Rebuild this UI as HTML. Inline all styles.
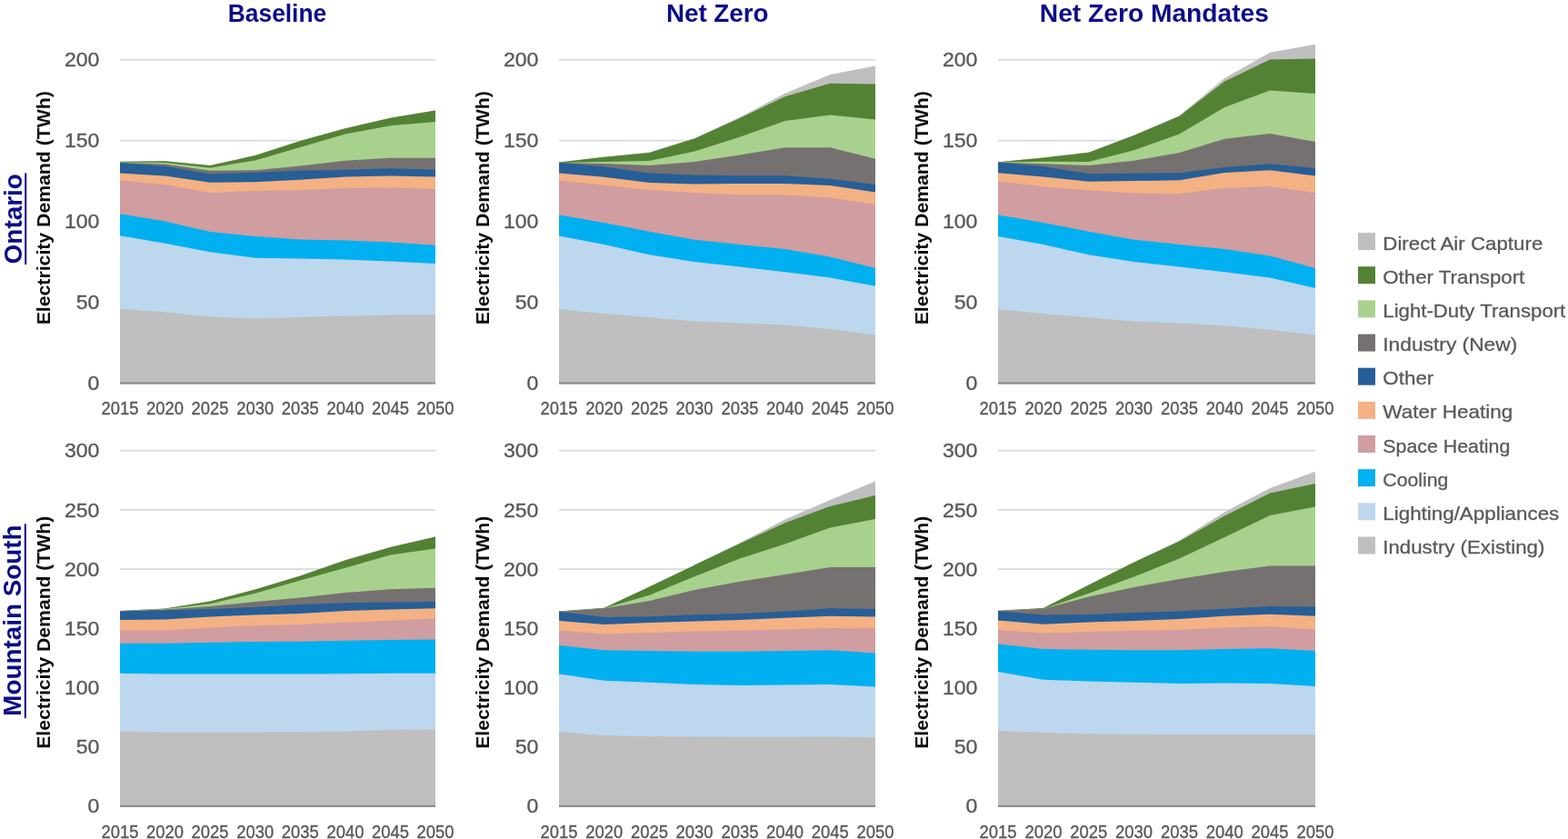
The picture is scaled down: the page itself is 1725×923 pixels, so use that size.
<!DOCTYPE html><html><head><meta charset="utf-8"><style>html,body{margin:0;padding:0;background:#fff;}svg{display:block;}text{font-family:"Liberation Sans",Arial,sans-serif;}.yl{font-size:21.4px;fill:#595959;stroke:#595959;stroke-width:0.35px;text-anchor:end;}.xl{font-size:19.6px;fill:#595959;stroke:#595959;stroke-width:0.35px;text-anchor:middle;}.tt{font-size:28px;font-weight:bold;fill:#0C0C8A;}.rl{font-size:27px;font-weight:bold;fill:#0C0C8A;}.at{font-size:20px;font-weight:bold;fill:#0D0D0D;}.lg{font-size:21px;fill:#595959;stroke:#595959;stroke-width:0.3px;}</style></head><body>
<svg width="1725" height="923" viewBox="0 0 1725 923">
<rect width="1725" height="923" fill="#fff"/>
<text class="tt" x="250.8" y="23.6" textLength="108.4" lengthAdjust="spacingAndGlyphs">Baseline</text>
<text class="tt" x="732.9" y="23.6" textLength="112.6" lengthAdjust="spacingAndGlyphs">Net Zero</text>
<text class="tt" x="1143.8" y="23.6" textLength="252.1" lengthAdjust="spacingAndGlyphs">Net Zero Mandates</text>
<rect x="132.0" y="331.65" width="347.0" height="1.8" fill="#D9D9D9"/>
<rect x="132.0" y="242.70" width="347.0" height="1.8" fill="#D9D9D9"/>
<rect x="132.0" y="153.75" width="347.0" height="1.8" fill="#D9D9D9"/>
<rect x="132.0" y="64.80" width="347.0" height="1.8" fill="#D9D9D9"/>
<polygon points="132.00,177.80 181.57,177.20 231.14,182.00 280.71,171.00 330.29,154.90 379.86,141.30 429.43,129.80 479.00,121.50 479.00,421.50 132.00,421.50" fill="#BFBFBF"/>
<polygon points="132.00,177.80 181.57,177.20 231.14,182.00 280.71,171.00 330.29,154.90 379.86,141.30 429.43,129.80 479.00,121.50 479.00,421.50 132.00,421.50" fill="#548235"/>
<polygon points="132.00,178.50 181.57,178.90 231.14,184.70 280.71,176.40 330.29,161.90 379.86,147.60 429.43,138.20 479.00,134.00 479.00,421.50 132.00,421.50" fill="#A9D18E"/>
<polygon points="132.00,178.90 181.57,180.60 231.14,187.70 280.71,187.20 330.29,182.50 379.86,176.80 429.43,173.70 479.00,173.70 479.00,421.50 132.00,421.50" fill="#767171"/>
<polygon points="132.00,178.90 181.57,182.80 231.14,191.40 280.71,189.70 330.29,187.40 379.86,186.80 429.43,185.20 479.00,186.80 479.00,421.50 132.00,421.50" fill="#275E96"/>
<polygon points="132.00,190.40 181.57,193.50 231.14,200.80 280.71,200.20 330.29,197.70 379.86,194.60 429.43,193.50 479.00,194.60 479.00,421.50 132.00,421.50" fill="#F4B183"/>
<polygon points="132.00,198.60 181.57,203.00 231.14,211.90 280.71,210.00 330.29,209.00 379.86,207.10 429.43,206.50 479.00,208.10 479.00,421.50 132.00,421.50" fill="#D09DA0"/>
<polygon points="132.00,235.30 181.57,243.60 231.14,255.10 280.71,260.00 330.29,263.40 379.86,264.50 429.43,266.60 479.00,269.70 479.00,421.50 132.00,421.50" fill="#00B0F0"/>
<polygon points="132.00,259.20 181.57,267.80 231.14,277.20 280.71,283.80 330.29,284.50 379.86,285.50 429.43,287.60 479.00,290.10 479.00,421.50 132.00,421.50" fill="#BDD7EE"/>
<polygon points="132.00,339.80 181.57,343.30 231.14,348.60 280.71,350.20 330.29,349.00 379.86,347.50 429.43,346.50 479.00,346.10 479.00,421.50 132.00,421.50" fill="#BFBFBF"/>
<rect x="132.0" y="420.50" width="347.0" height="2.1" fill="#898989"/>
<text class="yl" x="109.4" y="429.1" textLength="12.8" lengthAdjust="spacingAndGlyphs">0</text>
<text class="yl" x="109.4" y="340.2" textLength="25.7" lengthAdjust="spacingAndGlyphs">50</text>
<text class="yl" x="109.4" y="251.2" textLength="38.5" lengthAdjust="spacingAndGlyphs">100</text>
<text class="yl" x="109.4" y="162.3" textLength="38.5" lengthAdjust="spacingAndGlyphs">150</text>
<text class="yl" x="109.4" y="73.3" textLength="38.5" lengthAdjust="spacingAndGlyphs">200</text>
<text class="xl" x="132.0" y="456.0" textLength="41" lengthAdjust="spacingAndGlyphs">2015</text>
<text class="xl" x="181.6" y="456.0" textLength="41" lengthAdjust="spacingAndGlyphs">2020</text>
<text class="xl" x="231.1" y="456.0" textLength="41" lengthAdjust="spacingAndGlyphs">2025</text>
<text class="xl" x="280.7" y="456.0" textLength="41" lengthAdjust="spacingAndGlyphs">2030</text>
<text class="xl" x="330.3" y="456.0" textLength="41" lengthAdjust="spacingAndGlyphs">2035</text>
<text class="xl" x="379.9" y="456.0" textLength="41" lengthAdjust="spacingAndGlyphs">2040</text>
<text class="xl" x="429.4" y="456.0" textLength="41" lengthAdjust="spacingAndGlyphs">2045</text>
<text class="xl" x="479.0" y="456.0" textLength="41" lengthAdjust="spacingAndGlyphs">2050</text>
<text class="at" transform="translate(54.5,357.3) rotate(-90)" textLength="257.1" lengthAdjust="spacingAndGlyphs">Electricity Demand (TWh)</text>
<rect x="615.0" y="331.65" width="348.0" height="1.8" fill="#D9D9D9"/>
<rect x="615.0" y="242.70" width="348.0" height="1.8" fill="#D9D9D9"/>
<rect x="615.0" y="153.75" width="348.0" height="1.8" fill="#D9D9D9"/>
<rect x="615.0" y="64.80" width="348.0" height="1.8" fill="#D9D9D9"/>
<polygon points="615.00,178.60 664.71,172.70 714.43,167.50 764.14,152.00 813.86,128.90 863.57,102.80 913.29,81.90 963.00,72.50 963.00,421.50 615.00,421.50" fill="#BFBFBF"/>
<polygon points="615.00,178.60 664.71,172.70 714.43,168.10 764.14,152.50 813.86,129.90 863.57,106.30 913.29,91.70 963.00,92.40 963.00,421.50 615.00,421.50" fill="#548235"/>
<polygon points="615.00,179.00 664.71,178.00 714.43,176.90 764.14,166.50 813.86,150.80 863.57,133.10 913.29,126.40 963.00,131.40 963.00,421.50 615.00,421.50" fill="#A9D18E"/>
<polygon points="615.00,179.00 664.71,180.00 714.43,182.10 764.14,178.00 813.86,170.60 863.57,162.30 913.29,162.30 963.00,174.80 963.00,421.50 615.00,421.50" fill="#767171"/>
<polygon points="615.00,179.00 664.71,183.20 714.43,190.50 764.14,192.60 813.86,193.20 863.57,193.20 913.29,196.70 963.00,203.00 963.00,421.50 615.00,421.50" fill="#275E96"/>
<polygon points="615.00,190.50 664.71,194.70 714.43,200.90 764.14,202.40 813.86,202.00 863.57,202.00 913.29,204.10 963.00,211.40 963.00,421.50 615.00,421.50" fill="#F4B183"/>
<polygon points="615.00,198.50 664.71,203.70 714.43,208.90 764.14,212.00 813.86,214.50 863.57,214.50 913.29,217.60 963.00,224.90 963.00,421.50 615.00,421.50" fill="#D09DA0"/>
<polygon points="615.00,236.50 664.71,244.90 714.43,254.70 764.14,263.70 813.86,268.90 863.57,274.10 913.29,282.50 963.00,295.00 963.00,421.50 615.00,421.50" fill="#00B0F0"/>
<polygon points="615.00,259.50 664.71,268.90 714.43,280.20 764.14,287.90 813.86,293.60 863.57,299.20 913.29,305.40 963.00,314.80 963.00,421.50 615.00,421.50" fill="#BDD7EE"/>
<polygon points="615.00,340.30 664.71,345.10 714.43,349.30 764.14,353.40 813.86,355.50 863.57,357.60 913.29,362.00 963.00,368.40 963.00,421.50 615.00,421.50" fill="#BFBFBF"/>
<rect x="615.0" y="420.50" width="348.0" height="2.1" fill="#898989"/>
<text class="yl" x="592.4" y="429.1" textLength="12.8" lengthAdjust="spacingAndGlyphs">0</text>
<text class="yl" x="592.4" y="340.2" textLength="25.7" lengthAdjust="spacingAndGlyphs">50</text>
<text class="yl" x="592.4" y="251.2" textLength="38.5" lengthAdjust="spacingAndGlyphs">100</text>
<text class="yl" x="592.4" y="162.3" textLength="38.5" lengthAdjust="spacingAndGlyphs">150</text>
<text class="yl" x="592.4" y="73.3" textLength="38.5" lengthAdjust="spacingAndGlyphs">200</text>
<text class="xl" x="615.0" y="456.0" textLength="41" lengthAdjust="spacingAndGlyphs">2015</text>
<text class="xl" x="664.7" y="456.0" textLength="41" lengthAdjust="spacingAndGlyphs">2020</text>
<text class="xl" x="714.4" y="456.0" textLength="41" lengthAdjust="spacingAndGlyphs">2025</text>
<text class="xl" x="764.1" y="456.0" textLength="41" lengthAdjust="spacingAndGlyphs">2030</text>
<text class="xl" x="813.9" y="456.0" textLength="41" lengthAdjust="spacingAndGlyphs">2035</text>
<text class="xl" x="863.6" y="456.0" textLength="41" lengthAdjust="spacingAndGlyphs">2040</text>
<text class="xl" x="913.3" y="456.0" textLength="41" lengthAdjust="spacingAndGlyphs">2045</text>
<text class="xl" x="963.0" y="456.0" textLength="41" lengthAdjust="spacingAndGlyphs">2050</text>
<text class="at" transform="translate(537.9,357.3) rotate(-90)" textLength="257.1" lengthAdjust="spacingAndGlyphs">Electricity Demand (TWh)</text>
<rect x="1098.0" y="331.65" width="349.0" height="1.8" fill="#D9D9D9"/>
<rect x="1098.0" y="242.70" width="349.0" height="1.8" fill="#D9D9D9"/>
<rect x="1098.0" y="153.75" width="349.0" height="1.8" fill="#D9D9D9"/>
<rect x="1098.0" y="64.80" width="349.0" height="1.8" fill="#D9D9D9"/>
<polygon points="1098.00,178.20 1147.86,173.60 1197.71,167.80 1247.57,148.60 1297.43,127.30 1347.29,85.90 1397.14,57.70 1447.00,48.80 1447.00,421.50 1098.00,421.50" fill="#BFBFBF"/>
<polygon points="1098.00,178.20 1147.86,173.60 1197.71,167.80 1247.57,149.00 1297.43,127.70 1347.29,89.50 1397.14,65.50 1447.00,64.60 1447.00,421.50 1098.00,421.50" fill="#548235"/>
<polygon points="1098.00,178.40 1147.86,177.80 1197.71,178.00 1247.57,165.30 1297.43,147.50 1347.29,118.00 1397.14,99.50 1447.00,103.00 1447.00,421.50 1098.00,421.50" fill="#A9D18E"/>
<polygon points="1098.00,178.40 1147.86,180.30 1197.71,182.00 1247.57,176.70 1297.43,168.00 1347.29,152.70 1397.14,146.90 1447.00,156.00 1447.00,421.50 1098.00,421.50" fill="#767171"/>
<polygon points="1098.00,178.40 1147.86,183.20 1197.71,191.10 1247.57,190.70 1297.43,190.30 1347.29,184.10 1397.14,180.30 1447.00,185.10 1447.00,421.50 1098.00,421.50" fill="#275E96"/>
<polygon points="1098.00,190.30 1147.86,194.50 1197.71,199.70 1247.57,199.10 1297.43,198.20 1347.29,189.90 1397.14,187.20 1447.00,193.40 1447.00,421.50 1098.00,421.50" fill="#F4B183"/>
<polygon points="1098.00,199.40 1147.86,205.20 1197.71,209.30 1247.57,212.50 1297.43,213.30 1347.29,207.00 1397.14,204.90 1447.00,212.20 1447.00,421.50 1098.00,421.50" fill="#D09DA0"/>
<polygon points="1098.00,236.50 1147.86,244.90 1197.71,254.70 1247.57,263.70 1297.43,268.90 1347.29,274.10 1397.14,281.40 1447.00,295.00 1447.00,421.50 1098.00,421.50" fill="#00B0F0"/>
<polygon points="1098.00,260.10 1147.86,268.90 1197.71,280.20 1247.57,287.90 1297.43,293.60 1347.29,299.20 1397.14,305.40 1447.00,316.90 1447.00,421.50 1098.00,421.50" fill="#BDD7EE"/>
<polygon points="1098.00,340.30 1147.86,345.10 1197.71,349.30 1247.57,353.40 1297.43,355.50 1347.29,358.20 1397.14,362.80 1447.00,368.40 1447.00,421.50 1098.00,421.50" fill="#BFBFBF"/>
<rect x="1098.0" y="420.50" width="349.0" height="2.1" fill="#898989"/>
<text class="yl" x="1075.4" y="429.1" textLength="12.8" lengthAdjust="spacingAndGlyphs">0</text>
<text class="yl" x="1075.4" y="340.2" textLength="25.7" lengthAdjust="spacingAndGlyphs">50</text>
<text class="yl" x="1075.4" y="251.2" textLength="38.5" lengthAdjust="spacingAndGlyphs">100</text>
<text class="yl" x="1075.4" y="162.3" textLength="38.5" lengthAdjust="spacingAndGlyphs">150</text>
<text class="yl" x="1075.4" y="73.3" textLength="38.5" lengthAdjust="spacingAndGlyphs">200</text>
<text class="xl" x="1098.0" y="456.0" textLength="41" lengthAdjust="spacingAndGlyphs">2015</text>
<text class="xl" x="1147.9" y="456.0" textLength="41" lengthAdjust="spacingAndGlyphs">2020</text>
<text class="xl" x="1197.7" y="456.0" textLength="41" lengthAdjust="spacingAndGlyphs">2025</text>
<text class="xl" x="1247.6" y="456.0" textLength="41" lengthAdjust="spacingAndGlyphs">2030</text>
<text class="xl" x="1297.4" y="456.0" textLength="41" lengthAdjust="spacingAndGlyphs">2035</text>
<text class="xl" x="1347.3" y="456.0" textLength="41" lengthAdjust="spacingAndGlyphs">2040</text>
<text class="xl" x="1397.1" y="456.0" textLength="41" lengthAdjust="spacingAndGlyphs">2045</text>
<text class="xl" x="1447.0" y="456.0" textLength="41" lengthAdjust="spacingAndGlyphs">2050</text>
<text class="at" transform="translate(1021.3,357.3) rotate(-90)" textLength="257.1" lengthAdjust="spacingAndGlyphs">Electricity Demand (TWh)</text>
<rect x="132.0" y="820.72" width="347.0" height="1.8" fill="#D9D9D9"/>
<rect x="132.0" y="755.53" width="347.0" height="1.8" fill="#D9D9D9"/>
<rect x="132.0" y="690.34" width="347.0" height="1.8" fill="#D9D9D9"/>
<rect x="132.0" y="625.16" width="347.0" height="1.8" fill="#D9D9D9"/>
<rect x="132.0" y="559.98" width="347.0" height="1.8" fill="#D9D9D9"/>
<rect x="132.0" y="494.79" width="347.0" height="1.8" fill="#D9D9D9"/>
<polygon points="132.00,672.10 181.57,669.50 231.14,661.50 280.71,648.40 330.29,633.50 379.86,616.30 429.43,602.00 479.00,590.40 479.00,886.80 132.00,886.80" fill="#BFBFBF"/>
<polygon points="132.00,672.10 181.57,669.50 231.14,661.50 280.71,648.40 330.29,633.50 379.86,616.30 429.43,602.00 479.00,590.40 479.00,886.80 132.00,886.80" fill="#548235"/>
<polygon points="132.00,672.40 181.57,670.00 231.14,664.20 280.71,652.80 330.29,638.60 379.86,624.80 429.43,610.60 479.00,603.50 479.00,886.80 132.00,886.80" fill="#A9D18E"/>
<polygon points="132.00,672.40 181.57,670.50 231.14,667.00 280.71,662.00 330.29,657.50 379.86,652.00 429.43,648.30 479.00,646.80 479.00,886.80 132.00,886.80" fill="#767171"/>
<polygon points="132.00,672.40 181.57,671.60 231.14,670.00 280.71,667.90 330.29,665.00 379.86,663.30 429.43,662.50 479.00,661.90 479.00,886.80 132.00,886.80" fill="#275E96"/>
<polygon points="132.00,682.00 181.57,681.50 231.14,678.50 280.71,676.60 330.29,675.00 379.86,672.00 429.43,670.60 479.00,669.20 479.00,886.80 132.00,886.80" fill="#F4B183"/>
<polygon points="132.00,693.50 181.57,693.50 231.14,690.40 280.71,688.30 330.29,686.90 379.86,684.80 429.43,682.70 479.00,680.20 479.00,886.80 132.00,886.80" fill="#D09DA0"/>
<polygon points="132.00,707.80 181.57,707.80 231.14,706.70 280.71,706.10 330.29,705.70 379.86,704.70 429.43,704.00 479.00,703.60 479.00,886.80 132.00,886.80" fill="#00B0F0"/>
<polygon points="132.00,740.80 181.57,741.60 231.14,741.60 280.71,741.60 330.29,741.60 379.86,741.20 429.43,740.80 479.00,740.80 479.00,886.80 132.00,886.80" fill="#BDD7EE"/>
<polygon points="132.00,804.60 181.57,805.60 231.14,805.60 280.71,805.60 330.29,805.20 379.86,804.60 429.43,803.10 479.00,802.50 479.00,886.80 132.00,886.80" fill="#BFBFBF"/>
<rect x="132.0" y="885.80" width="347.0" height="2.1" fill="#898989"/>
<text class="yl" x="109.4" y="894.4" textLength="12.8" lengthAdjust="spacingAndGlyphs">0</text>
<text class="yl" x="109.4" y="829.2" textLength="25.7" lengthAdjust="spacingAndGlyphs">50</text>
<text class="yl" x="109.4" y="764.0" textLength="38.5" lengthAdjust="spacingAndGlyphs">100</text>
<text class="yl" x="109.4" y="698.8" textLength="38.5" lengthAdjust="spacingAndGlyphs">150</text>
<text class="yl" x="109.4" y="633.7" textLength="38.5" lengthAdjust="spacingAndGlyphs">200</text>
<text class="yl" x="109.4" y="568.5" textLength="38.5" lengthAdjust="spacingAndGlyphs">250</text>
<text class="yl" x="109.4" y="503.3" textLength="38.5" lengthAdjust="spacingAndGlyphs">300</text>
<text class="xl" x="132.0" y="921.6" textLength="41" lengthAdjust="spacingAndGlyphs">2015</text>
<text class="xl" x="181.6" y="921.6" textLength="41" lengthAdjust="spacingAndGlyphs">2020</text>
<text class="xl" x="231.1" y="921.6" textLength="41" lengthAdjust="spacingAndGlyphs">2025</text>
<text class="xl" x="280.7" y="921.6" textLength="41" lengthAdjust="spacingAndGlyphs">2030</text>
<text class="xl" x="330.3" y="921.6" textLength="41" lengthAdjust="spacingAndGlyphs">2035</text>
<text class="xl" x="379.9" y="921.6" textLength="41" lengthAdjust="spacingAndGlyphs">2040</text>
<text class="xl" x="429.4" y="921.6" textLength="41" lengthAdjust="spacingAndGlyphs">2045</text>
<text class="xl" x="479.0" y="921.6" textLength="41" lengthAdjust="spacingAndGlyphs">2050</text>
<text class="at" transform="translate(54.5,823.8) rotate(-90)" textLength="256.0" lengthAdjust="spacingAndGlyphs">Electricity Demand (TWh)</text>
<rect x="615.0" y="820.72" width="348.0" height="1.8" fill="#D9D9D9"/>
<rect x="615.0" y="755.53" width="348.0" height="1.8" fill="#D9D9D9"/>
<rect x="615.0" y="690.34" width="348.0" height="1.8" fill="#D9D9D9"/>
<rect x="615.0" y="625.16" width="348.0" height="1.8" fill="#D9D9D9"/>
<rect x="615.0" y="559.98" width="348.0" height="1.8" fill="#D9D9D9"/>
<rect x="615.0" y="494.79" width="348.0" height="1.8" fill="#D9D9D9"/>
<polygon points="615.00,672.40 664.71,668.80 714.43,645.50 764.14,621.60 813.86,597.30 863.57,571.50 913.29,550.00 963.00,529.40 963.00,886.80 615.00,886.80" fill="#BFBFBF"/>
<polygon points="615.00,672.40 664.71,668.80 714.43,645.50 764.14,621.60 813.86,598.00 863.57,575.30 913.29,557.00 963.00,545.10 963.00,886.80 615.00,886.80" fill="#548235"/>
<polygon points="615.00,672.80 664.71,669.30 714.43,654.70 764.14,634.20 813.86,614.50 863.57,598.60 913.29,580.50 963.00,571.10 963.00,886.80 615.00,886.80" fill="#A9D18E"/>
<polygon points="615.00,672.80 664.71,669.30 714.43,661.00 764.14,649.00 813.86,639.70 863.57,632.00 913.29,624.00 963.00,624.00 963.00,886.80 615.00,886.80" fill="#767171"/>
<polygon points="615.00,672.80 664.71,679.00 714.43,678.20 764.14,676.20 813.86,674.90 863.57,672.40 913.29,669.30 963.00,669.90 963.00,886.80 615.00,886.80" fill="#275E96"/>
<polygon points="615.00,683.00 664.71,687.10 714.43,685.10 764.14,683.40 813.86,681.90 863.57,679.80 913.29,677.70 963.00,678.40 963.00,886.80 615.00,886.80" fill="#F4B183"/>
<polygon points="615.00,693.40 664.71,697.60 714.43,695.90 764.14,694.40 813.86,693.80 863.57,692.40 913.29,690.90 963.00,691.30 963.00,886.80 615.00,886.80" fill="#D09DA0"/>
<polygon points="615.00,710.10 664.71,715.30 714.43,716.00 764.14,716.80 813.86,716.80 863.57,716.00 913.29,715.30 963.00,718.50 963.00,886.80 615.00,886.80" fill="#00B0F0"/>
<polygon points="615.00,741.40 664.71,748.70 714.43,750.80 764.14,752.90 813.86,753.90 863.57,753.50 913.29,752.90 963.00,755.60 963.00,886.80 615.00,886.80" fill="#BDD7EE"/>
<polygon points="615.00,805.10 664.71,809.30 714.43,809.90 764.14,810.30 813.86,810.70 863.57,810.70 913.29,810.30 963.00,811.40 963.00,886.80 615.00,886.80" fill="#BFBFBF"/>
<rect x="615.0" y="885.80" width="348.0" height="2.1" fill="#898989"/>
<text class="yl" x="592.4" y="894.4" textLength="12.8" lengthAdjust="spacingAndGlyphs">0</text>
<text class="yl" x="592.4" y="829.2" textLength="25.7" lengthAdjust="spacingAndGlyphs">50</text>
<text class="yl" x="592.4" y="764.0" textLength="38.5" lengthAdjust="spacingAndGlyphs">100</text>
<text class="yl" x="592.4" y="698.8" textLength="38.5" lengthAdjust="spacingAndGlyphs">150</text>
<text class="yl" x="592.4" y="633.7" textLength="38.5" lengthAdjust="spacingAndGlyphs">200</text>
<text class="yl" x="592.4" y="568.5" textLength="38.5" lengthAdjust="spacingAndGlyphs">250</text>
<text class="yl" x="592.4" y="503.3" textLength="38.5" lengthAdjust="spacingAndGlyphs">300</text>
<text class="xl" x="615.0" y="921.6" textLength="41" lengthAdjust="spacingAndGlyphs">2015</text>
<text class="xl" x="664.7" y="921.6" textLength="41" lengthAdjust="spacingAndGlyphs">2020</text>
<text class="xl" x="714.4" y="921.6" textLength="41" lengthAdjust="spacingAndGlyphs">2025</text>
<text class="xl" x="764.1" y="921.6" textLength="41" lengthAdjust="spacingAndGlyphs">2030</text>
<text class="xl" x="813.9" y="921.6" textLength="41" lengthAdjust="spacingAndGlyphs">2035</text>
<text class="xl" x="863.6" y="921.6" textLength="41" lengthAdjust="spacingAndGlyphs">2040</text>
<text class="xl" x="913.3" y="921.6" textLength="41" lengthAdjust="spacingAndGlyphs">2045</text>
<text class="xl" x="963.0" y="921.6" textLength="41" lengthAdjust="spacingAndGlyphs">2050</text>
<text class="at" transform="translate(537.9,823.8) rotate(-90)" textLength="256.0" lengthAdjust="spacingAndGlyphs">Electricity Demand (TWh)</text>
<rect x="1098.0" y="820.72" width="349.0" height="1.8" fill="#D9D9D9"/>
<rect x="1098.0" y="755.53" width="349.0" height="1.8" fill="#D9D9D9"/>
<rect x="1098.0" y="690.34" width="349.0" height="1.8" fill="#D9D9D9"/>
<rect x="1098.0" y="625.16" width="349.0" height="1.8" fill="#D9D9D9"/>
<rect x="1098.0" y="559.98" width="349.0" height="1.8" fill="#D9D9D9"/>
<rect x="1098.0" y="494.79" width="349.0" height="1.8" fill="#D9D9D9"/>
<polygon points="1098.00,671.80 1147.86,669.10 1197.71,643.60 1247.57,618.60 1297.43,594.60 1347.29,563.20 1397.14,537.10 1447.00,518.80 1447.00,886.80 1098.00,886.80" fill="#BFBFBF"/>
<polygon points="1098.00,671.80 1147.86,669.10 1197.71,643.60 1247.57,618.60 1297.43,595.60 1347.29,567.50 1397.14,542.40 1447.00,531.90 1447.00,886.80 1098.00,886.80" fill="#548235"/>
<polygon points="1098.00,672.20 1147.86,669.70 1197.71,652.80 1247.57,634.50 1297.43,614.50 1347.29,591.00 1397.14,567.00 1447.00,557.60 1447.00,886.80 1098.00,886.80" fill="#A9D18E"/>
<polygon points="1098.00,672.20 1147.86,669.70 1197.71,656.50 1247.57,646.00 1297.43,637.00 1347.29,629.00 1397.14,622.60 1447.00,622.60 1447.00,886.80 1098.00,886.80" fill="#767171"/>
<polygon points="1098.00,672.20 1147.86,676.60 1197.71,676.00 1247.57,673.90 1297.43,672.40 1347.29,669.70 1397.14,667.00 1447.00,667.60 1447.00,886.80 1098.00,886.80" fill="#275E96"/>
<polygon points="1098.00,682.50 1147.86,686.70 1197.71,684.60 1247.57,683.00 1297.43,680.90 1347.29,677.70 1397.14,675.70 1447.00,677.70 1447.00,886.80 1098.00,886.80" fill="#F4B183"/>
<polygon points="1098.00,693.00 1147.86,696.50 1197.71,695.10 1247.57,693.80 1297.43,693.00 1347.29,690.30 1397.14,689.20 1447.00,692.40 1447.00,886.80 1098.00,886.80" fill="#D09DA0"/>
<polygon points="1098.00,708.40 1147.86,713.90 1197.71,714.70 1247.57,715.30 1297.43,715.30 1347.29,713.90 1397.14,713.20 1447.00,716.00 1447.00,886.80 1098.00,886.80" fill="#00B0F0"/>
<polygon points="1098.00,738.90 1147.86,747.70 1197.71,749.40 1247.57,750.80 1297.43,751.90 1347.29,751.40 1397.14,751.90 1447.00,755.00 1447.00,886.80 1098.00,886.80" fill="#BDD7EE"/>
<polygon points="1098.00,804.10 1147.86,806.10 1197.71,807.20 1247.57,807.80 1297.43,808.20 1347.29,808.20 1397.14,808.20 1447.00,808.20 1447.00,886.80 1098.00,886.80" fill="#BFBFBF"/>
<rect x="1098.0" y="885.80" width="349.0" height="2.1" fill="#898989"/>
<text class="yl" x="1075.4" y="894.4" textLength="12.8" lengthAdjust="spacingAndGlyphs">0</text>
<text class="yl" x="1075.4" y="829.2" textLength="25.7" lengthAdjust="spacingAndGlyphs">50</text>
<text class="yl" x="1075.4" y="764.0" textLength="38.5" lengthAdjust="spacingAndGlyphs">100</text>
<text class="yl" x="1075.4" y="698.8" textLength="38.5" lengthAdjust="spacingAndGlyphs">150</text>
<text class="yl" x="1075.4" y="633.7" textLength="38.5" lengthAdjust="spacingAndGlyphs">200</text>
<text class="yl" x="1075.4" y="568.5" textLength="38.5" lengthAdjust="spacingAndGlyphs">250</text>
<text class="yl" x="1075.4" y="503.3" textLength="38.5" lengthAdjust="spacingAndGlyphs">300</text>
<text class="xl" x="1098.0" y="921.6" textLength="41" lengthAdjust="spacingAndGlyphs">2015</text>
<text class="xl" x="1147.9" y="921.6" textLength="41" lengthAdjust="spacingAndGlyphs">2020</text>
<text class="xl" x="1197.7" y="921.6" textLength="41" lengthAdjust="spacingAndGlyphs">2025</text>
<text class="xl" x="1247.6" y="921.6" textLength="41" lengthAdjust="spacingAndGlyphs">2030</text>
<text class="xl" x="1297.4" y="921.6" textLength="41" lengthAdjust="spacingAndGlyphs">2035</text>
<text class="xl" x="1347.3" y="921.6" textLength="41" lengthAdjust="spacingAndGlyphs">2040</text>
<text class="xl" x="1397.1" y="921.6" textLength="41" lengthAdjust="spacingAndGlyphs">2045</text>
<text class="xl" x="1447.0" y="921.6" textLength="41" lengthAdjust="spacingAndGlyphs">2050</text>
<text class="at" transform="translate(1021.3,823.8) rotate(-90)" textLength="256.0" lengthAdjust="spacingAndGlyphs">Electricity Demand (TWh)</text>
<text class="rl" transform="translate(24,290.4) rotate(-90)" textLength="99.3" lengthAdjust="spacingAndGlyphs">Ontario</text>
<rect x="27.2" y="190.4" width="2" height="100.6" fill="#0C0C8A"/>
<text class="rl" transform="translate(23.4,787.8) rotate(-90)" textLength="210.3" lengthAdjust="spacingAndGlyphs">Mountain South</text>
<rect x="26.8" y="576.3" width="2" height="213.9" fill="#0C0C8A"/>
<rect x="1494" y="256.1" width="19" height="19" fill="#BFBFBF"/>
<text class="lg" x="1521.3" y="274.9" textLength="176" lengthAdjust="spacingAndGlyphs">Direct Air Capture</text>
<rect x="1494" y="293.2" width="19" height="19" fill="#548235"/>
<text class="lg" x="1521.3" y="312.0" textLength="156" lengthAdjust="spacingAndGlyphs">Other Transport</text>
<rect x="1494" y="330.4" width="19" height="19" fill="#A9D18E"/>
<text class="lg" x="1521.3" y="349.1" textLength="201" lengthAdjust="spacingAndGlyphs">Light-Duty Transport</text>
<rect x="1494" y="367.6" width="19" height="19" fill="#767171"/>
<text class="lg" x="1521.3" y="386.2" textLength="148" lengthAdjust="spacingAndGlyphs">Industry (New)</text>
<rect x="1494" y="404.7" width="19" height="19" fill="#275E96"/>
<text class="lg" x="1521.3" y="423.3" textLength="56" lengthAdjust="spacingAndGlyphs">Other</text>
<rect x="1494" y="441.9" width="19" height="19" fill="#F4B183"/>
<text class="lg" x="1521.3" y="460.4" textLength="143" lengthAdjust="spacingAndGlyphs">Water Heating</text>
<rect x="1494" y="479.0" width="19" height="19" fill="#D09DA0"/>
<text class="lg" x="1521.3" y="497.5" textLength="140" lengthAdjust="spacingAndGlyphs">Space Heating</text>
<rect x="1494" y="516.2" width="19" height="19" fill="#00B0F0"/>
<text class="lg" x="1521.3" y="534.6" textLength="72" lengthAdjust="spacingAndGlyphs">Cooling</text>
<rect x="1494" y="553.3" width="19" height="19" fill="#BDD7EE"/>
<text class="lg" x="1521.3" y="571.7" textLength="194" lengthAdjust="spacingAndGlyphs">Lighting/Appliances</text>
<rect x="1494" y="590.5" width="19" height="19" fill="#BFBFBF"/>
<text class="lg" x="1521.3" y="608.8" textLength="178" lengthAdjust="spacingAndGlyphs">Industry (Existing)</text>
</svg></body></html>
